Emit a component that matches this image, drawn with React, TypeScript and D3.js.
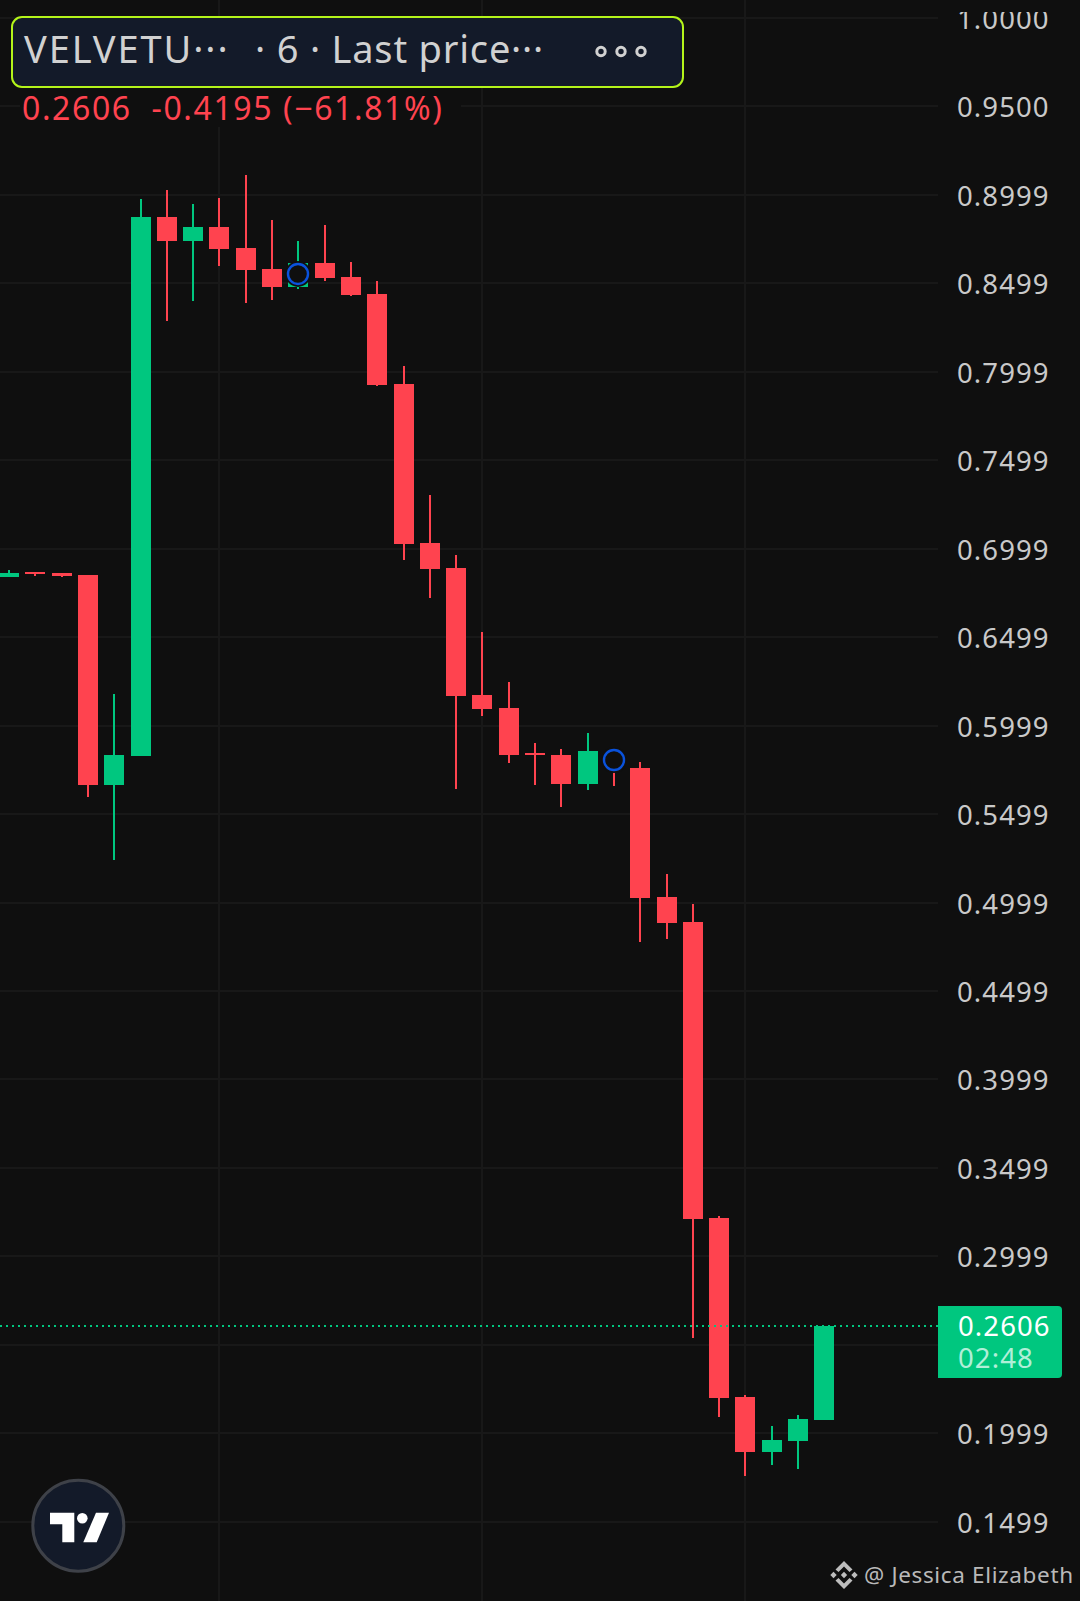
import React from "react";
import * as d3 from "d3";

const W = 1080;
const H = 1601;

const opens = [0.6840,0.6868,0.6862,0.6851,0.5664,0.5828,0.8875,0.8739,0.8818,0.8699,0.8581,0.8479,0.8615,0.8535,0.8439,0.7931,0.7032,0.6890,0.6172,0.6099,0.5845,0.5833,0.5669,0.5850,0.5760,0.5031,0.4889,0.3216,0.2204,0.1893,0.1956,0.2074];
const closes = [0.6862,0.6857,0.6845,0.5664,0.5833,0.8875,0.8739,0.8818,0.8694,0.8575,0.8479,0.8615,0.8530,0.8434,0.7925,0.7026,0.6885,0.6167,0.6093,0.5833,0.5833,0.5669,0.5856,0.5760,0.5025,0.4884,0.3210,0.2198,0.1893,0.1961,0.2080,0.2606];
const highs = [0.6879,0.6868,0.6862,0.6851,0.6178,0.8976,0.9027,0.8948,0.8982,0.9112,0.8858,0.8739,0.8829,0.8620,0.8513,0.8032,0.7303,0.6964,0.6529,0.6246,0.5901,0.5867,0.5958,0.5850,0.5794,0.5161,0.4991,0.3227,0.2215,0.2040,0.2102,0.2606];
const lows = [0.6840,0.6845,0.6840,0.5596,0.5240,0.5828,0.8287,0.8400,0.8598,0.8389,0.8405,0.8468,0.8513,0.8428,0.7919,0.6936,0.6721,0.5641,0.6054,0.5788,0.5664,0.5539,0.5636,0.5658,0.4776,0.4793,0.2538,0.2091,0.1758,0.1820,0.1797,0.2074];

const tickLabels = ["1.0000","0.9500","0.8999","0.8499","0.7999","0.7499","0.6999","0.6499","0.5999","0.5499","0.4999","0.4499","0.3999","0.3499","0.2999","0.1999","0.1499"];
const gridOnlyTicks = ["0.2499"];
const verticalGridIndex = [8, 18, 28];
const markerCandles = [11, 23];
const markerPrices = [0.8553, 0.5805];

const lastPrice = 0.2606;
const legendTitle = ["VELVETU\u00B7\u00B7\u00B7", "\u00B7 6 \u00B7 Last price\u00B7\u00B7\u00B7"];
const legendValues = "0.2606  -0.4195 (\u221261.81%)";

const BG = "#0f0f0f";
const GRID = "#181818";
const UP = "#00c77f";
const DOWN = "#ff434f";
const FONT = "'Noto Sans', sans-serif";

const y = d3.scaleLinear().domain([0.5999, 0.1499]).range([725.7, 1521.7]);
const x = d3.scaleLinear().domain([0, 31]).range([9.05, 824.35]);

export default function App() {
  const bodyW = 20;
  const rows = opens.map((o, i) => ({ i, o, c: closes[i], h: highs[i], l: lows[i] }));
  const lastY = Math.round(y(lastPrice));
  return (
    <svg
      width={W}
      height={H}
      viewBox={`0 0 ${W} ${H}`}
      style={{ position: "absolute", left: 0, top: 0, display: "block", background: BG }}
      fontFamily={FONT}
    >
      <defs>
        <clipPath id="axisClip">
          <rect x={938} y={12} width={142} height={H} />
        </clipPath>
      </defs>
      <rect width={W} height={H} fill={BG} />
      <g shapeRendering="crispEdges">
        {[...tickLabels, ...gridOnlyTicks].map((t) => (
          <rect key={t} x={0} width={938} y={Math.round(y(+t)) - 1} height={2} fill={GRID} />
        ))}
        {verticalGridIndex.map((i) => (
          <rect key={i} x={Math.round(x(i)) - 1} width={2} y={0} height={H} fill={GRID} />
        ))}
      </g>
      <rect x={20} y={90} width={441} height={37} fill={BG} />

      <g shapeRendering="crispEdges">
        {rows.map(({ i, o, c, h, l }) => {
          const col = c >= o ? UP : DOWN;
          const cx = Math.round(x(i));
          const top = Math.round(y(Math.max(o, c)));
          const bot = Math.round(y(Math.min(o, c)));
          return (
            <g key={i}>
              <rect x={cx - 1} width={2} y={Math.round(y(h))} height={Math.max(0, Math.round(y(l)) - Math.round(y(h)))} fill={col} />
              <rect x={cx - bodyW / 2} width={bodyW} y={top} height={Math.max(2, bot - top)} fill={col} />
            </g>
          );
        })}
      </g>

      {markerCandles.map((i, k) => (
        <g key={i}>
          <circle cx={Math.round(x(i))} cy={y(markerPrices[k])} r={13} fill={BG} />
          <circle cx={Math.round(x(i))} cy={y(markerPrices[k])} r={10} fill={BG} stroke="#0a52dc" strokeWidth={2.4} />
        </g>
      ))}

      <line x1={0} x2={938} y1={lastY} y2={lastY} stroke={UP} strokeWidth={2} strokeDasharray="2 4" shapeRendering="crispEdges" />

      <g clipPath="url(#axisClip)">
        {tickLabels.map((t) => (
          <text key={t} x={957} y={y(+t) + 11} fontSize={27.5} letterSpacing={1.1} fill="#c9c9c9">{t}</text>
        ))}
      </g>

      <path d="M938 1306H1058a4 4 0 0 1 4 4V1374a4 4 0 0 1 -4 4H938Z" fill={UP} />
      <text x={958} y={1336} fontSize={27.5} letterSpacing={1.1} fill="#ffffff">{lastPrice.toFixed(4)}</text>
      <text x={958} y={1368} fontSize={27.5} letterSpacing={1.1} fill="#b0efd8">02:48</text>

      <rect x={12} y={17} width={671} height={70} rx={10} fill="#131a29" stroke="#b4f41a" strokeWidth={2} />
      <text x={24} y={63} fontSize={38} letterSpacing={1.9} fill="#d1d1d1">{legendTitle[0]}</text>
      <text x={255} y={63} fontSize={38} letterSpacing={0.8} fill="#d1d1d1">{legendTitle[1]}</text>
      {[601, 621, 641].map((cx) => (
        <circle key={cx} cx={cx} cy={51.5} r={4.2} fill="none" stroke="#d1d1d1" strokeWidth={3} />
      ))}
      <text x={22} y={120} fontSize={32} letterSpacing={1.6} fill={DOWN} xmlSpace="preserve" style={{ whiteSpace: "pre" }}>{legendValues}</text>

      <circle cx={78.3} cy={1525.7} r={45.5} fill="#131a29" stroke="#3e4148" strokeWidth={3} />
      <path d="M50 1512.7H74.3V1542.3H62.3V1524.3H50Z" fill="#fff" />
      <circle cx={82.3} cy={1518.3} r={5.3} fill="#fff" />
      <path d="M96 1512.7H109L96.7 1542.3H83.3Z" fill="#fff" />

      <g fill="#bdbdbd" transform="translate(844 1575)">
        <path d="M0 -14L8.5 -5.5L5.5 -3L0 -8.5L-5.5 -3L-8.5 -5.5Z" />
        <path d="M0 14L8.5 5.5L5.5 3L0 8.5L-5.5 3L-8.5 5.5Z" />
        <path d="M0 -3.2L3.2 0L0 3.2L-3.2 0Z" />
        <path d="M-10.5 -3.2L-7.3 0L-10.5 3.2L-13.7 0Z" />
        <path d="M10.5 -3.2L13.7 0L10.5 3.2L7.3 0Z" />
      </g>
      <text x={864} y={1583} fontSize={22.5} letterSpacing={0.65} fill="#b9b9b9">@ Jessica Elizabeth</text>
    </svg>
  );
}
